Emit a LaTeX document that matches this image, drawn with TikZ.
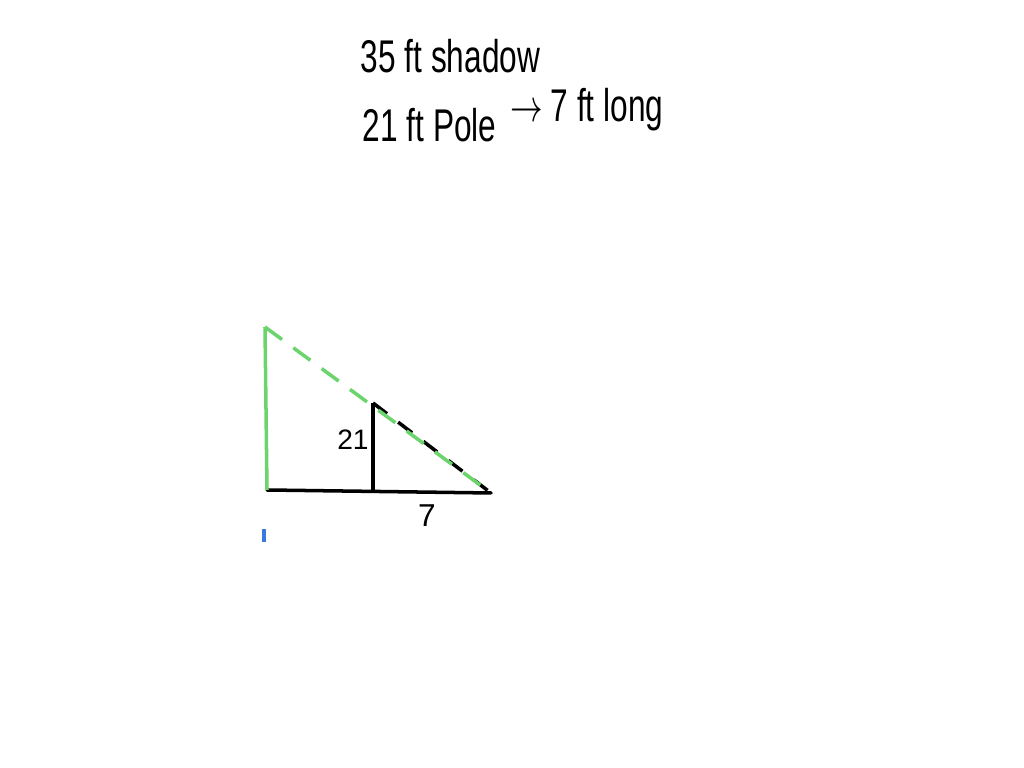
\documentclass[tikz,border=0pt]{standalone}
\usepackage{fontspec}
\setmainfont{Liberation Sans}
\usetikzlibrary{arrows.meta,positioning}
\definecolor{polegreen}{HTML}{6CD46C}
\definecolor{tickblue}{HTML}{3A7BE0}

\begin{document}
\begin{tikzpicture}[every node/.style={font=\fontsize{9}{11}\selectfont}]
      \useasboundingbox (0,0) rectangle (10.24,7.68);

      % NOTES
      \node[anchor=base west, inner sep=0pt, yscale=1.45, transform shape] (shadow) at (3.6,6.95) {35 ft shadow};
      \node[anchor=base west, inner sep=0pt, yscale=1.45, transform shape] (pole) at (3.62,6.26) {21 ft Pole};
      \node[anchor=base west, inner sep=0pt, yscale=1.45, transform shape] (arrow) at (5.1,6.46) {$\rightarrow$};
      \node[anchor=base west, inner sep=0pt, yscale=1.45, transform shape] (long) at (5.5,6.46) {7 ft long};

      % TRIANGLE
      \coordinate (top) at (2.65,4.41);
      \coordinate (corner) at (2.67,2.78);
      \coordinate (tip) at (4.91,2.75);
      \coordinate (polebot) at (3.73,2.78);
      \coordinate (poletop) at (3.73,3.65);

      \draw[black, line width=1pt, line cap=round] (corner) -- (tip);
      \draw[black, line width=1pt] (polebot) -- (poletop);
      \draw[black, line width=1pt, dash pattern=on 5pt off 4pt] (poletop) -- (tip);
      \draw[polegreen, line width=1pt] (top) -- (corner);
      \draw[polegreen, line width=1pt, dash pattern=on 6pt off 4pt] (top) -- (tip);

      \node (h) at (3.53,3.28) {\footnotesize 21};
      \node (b) at (4.27,2.52) {7};

      % stray tick
      \coordinate (tickA) at (2.64,2.39);
      \coordinate (tickB) at (2.64,2.26);
      \draw[tickblue, line width=0.9pt] (tickA) -- (tickB);
\end{tikzpicture}
\end{document}
